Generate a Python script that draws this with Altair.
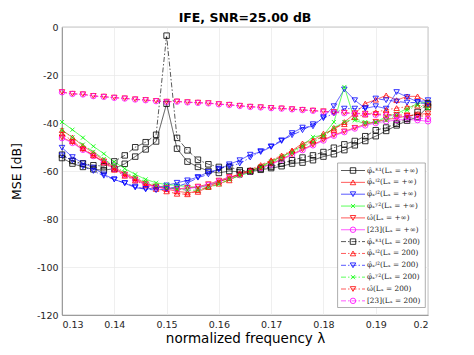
import altair as alt
import pandas as pd

freq = [0.130, 0.132, 0.134, 0.136, 0.138, 0.140, 0.142, 0.144, 0.146, 0.148,
        0.150, 0.152, 0.154, 0.156, 0.158, 0.160, 0.162, 0.164, 0.166, 0.168,
        0.170, 0.172, 0.174, 0.176, 0.178, 0.180, 0.182, 0.184, 0.186, 0.188,
        0.190, 0.192, 0.194, 0.196, 0.198, 0.200]

k1_inf = [-54.6, -56.9, -58.3, -59.3, -59.7, -59.0, -57.0, -54.0, -51.0, -47.7,
          -32.0, -50.7, -56.1, -58.3, -60.0, -60.8, -60.0, -60.4, -60.3, -59.5,
          -58.8, -58.0, -56.9, -56.5, -55.5, -54.0, -53.0, -51.3, -49.3, -47.5,
          -45.5, -43.3, -41.0, -39.0, -37.5, -33.3]
i2_inf = [-43.0, -46.0, -49.5, -52.5, -55.5, -58.5, -61.0, -63.0, -65.0, -66.5,
          -67.5, -68.5, -69.0, -68.7, -66.7, -65.3, -63.9, -61.5, -60.0, -58.3,
          -55.8, -54.2, -51.5, -48.5, -47.2, -44.4, -42.8, -39.6, -36.1, -31.9,
          -30.3, -28.5, -30.5, -28.9, -28.9, -31.2]
j2_inf = [-50.3, -54.2, -56.7, -58.6, -61.4, -63.5, -65.1, -66.9, -67.6, -66.9,
          -66.0, -64.9, -63.9, -62.5, -60.4, -59.4, -57.2, -55.5, -53.2, -52.1,
          -50.0, -47.5, -44.2, -41.9, -41.4, -37.5, -33.0, -26.0, -30.5, -33.9,
          -33.0, -34.0, -27.1, -29.2, -31.2, -30.5]
y2_inf = [-39.6, -42.8, -46.1, -49.7, -52.8, -56.2, -59.0, -61.4, -63.5, -64.9,
          -65.7, -66.0, -66.5, -67.0, -66.0, -64.5, -63.0, -61.5, -60.0, -58.0,
          -56.0, -54.0, -52.0, -49.3, -45.8, -45.1, -39.6, -25.0, -38.9, -40.3,
          -39.6, -37.5, -36.1, -34.0, -31.9, -31.2]
om_inf = [-46.0, -48.0, -51.0, -53.5, -56.0, -59.0, -61.5, -63.5, -65.5, -66.5,
          -67.0, -67.5, -67.0, -66.5, -65.5, -64.0, -62.5, -61.5, -60.0, -58.5,
          -57.0, -55.0, -53.0, -51.0, -49.0, -47.0, -45.0, -43.5, -42.0, -40.5,
          -39.5, -38.5, -38.0, -37.0, -36.5, -36.0]
c23_inf = [-46.3, -48.3, -51.2, -53.8, -56.3, -59.2, -61.7, -63.7, -65.7, -66.8,
           -67.2, -67.7, -67.3, -66.8, -65.8, -64.3, -62.8, -61.7, -60.3, -58.8,
           -57.3, -55.3, -53.3, -51.3, -49.3, -47.3, -45.3, -43.8, -42.3, -41.0,
           -40.0, -39.3, -38.8, -38.5, -38.8, -39.3]
k1_200 = [-53.2, -55.8, -56.9, -57.6, -58.0, -56.0, -53.5, -50.1, -48.0, -44.9,
          -3.6, -46.2, -51.4, -55.3, -57.2, -58.3, -58.3, -59.7, -60.0, -59.0,
          -58.3, -56.9, -55.5, -54.4, -53.5, -52.1, -50.3, -48.9, -47.5, -45.5,
          -43.0, -41.9, -40.3, -38.2, -35.4, -31.9]
i2_200 = [-44.4, -47.5, -50.5, -53.5, -56.5, -59.5, -62.0, -64.0, -66.0, -67.5,
          -68.5, -69.5, -69.7, -68.0, -66.5, -64.5, -63.0, -61.0, -59.5, -57.5,
          -55.5, -53.5, -51.5, -49.5, -47.5, -45.5, -42.0, -40.5, -37.5, -36.5,
          -35.5, -34.5, -33.8, -33.2, -32.8, -32.5]
j2_200 = [-53.5, -55.6, -58.1, -60.0, -62.0, -63.5, -65.0, -66.5, -67.5, -68.0,
          -67.5, -66.5, -65.0, -62.8, -61.4, -59.0, -58.0, -56.9, -54.4, -51.7,
          -49.7, -47.2, -45.1, -43.0, -40.5, -38.0, -36.0, -34.0, -34.0, -33.9,
          -29.8, -30.5, -31.0, -31.5, -31.5, -32.0]
y2_200 = [-43.0, -46.0, -49.0, -52.0, -55.0, -58.0, -60.5, -62.5, -64.5, -66.0,
          -67.0, -67.5, -68.0, -68.0, -67.0, -65.5, -63.5, -62.0, -60.5, -58.5,
          -56.5, -54.5, -52.5, -50.0, -48.0, -45.5, -42.0, -39.6, -38.2, -39.6,
          -39.6, -38.9, -36.8, -34.7, -32.6, -34.0]
om_200 = [-27.1, -27.8, -28.0, -28.7, -29.0, -29.4, -29.7, -30.1, -30.4, -30.8,
          -31.1, -31.0, -31.3, -31.5, -31.7, -32.1, -32.4, -32.8, -33.2, -33.4,
          -33.7, -33.9, -34.2, -34.5, -34.8, -35.1, -35.4, -35.7, -35.9, -36.1,
          -36.3, -36.4, -36.6, -36.8, -37.0, -37.2]
c23_200 = [-27.2, -27.9, -28.1, -28.8, -29.1, -29.5, -29.8, -30.2, -30.5, -30.9,
           -31.2, -31.1, -31.4, -31.6, -31.8, -32.2, -32.5, -32.9, -33.3, -33.5,
           -33.8, -34.0, -34.3, -34.6, -34.9, -35.3, -35.6, -35.9, -36.1, -36.3,
           -36.6, -36.8, -37.1, -37.5, -37.9, -38.3]

hat = "\u0302"
labels = [
    f"φ{hat}ₓᴷ¹(Lₓ = +∞)", f"φ{hat}ₓᴵ²(Lₓ = +∞)", f"φ{hat}ₓᴶ²(Lₓ = +∞)",
    f"φ{hat}ₓʸ²(Lₓ = +∞)", f"ω{hat}(Lₓ = +∞)", "[23](Lₓ = +∞)",
    f"φ{hat}ₓᴷ¹(Lₓ = 200)", f"φ{hat}ₓᴵ²(Lₓ = 200)", f"φ{hat}ₓᴶ²(Lₓ = 200)",
    f"φ{hat}ₓʸ²(Lₓ = 200)", f"ω{hat}(Lₓ = 200)", "[23](Lₓ = 200)",
]
series_values = [k1_inf, i2_inf, j2_inf, y2_inf, om_inf, c23_inf,
                 k1_200, i2_200, j2_200, y2_200, om_200, c23_200]
colors = ["#000000", "#ff0000", "#0000ff", "#00ff00", "#ff0000", "#ff00ff"] * 2
xpath = "M-0.75,-0.75L0.75,0.75M-0.75,0.75L0.75,-0.75"
shapes = ["square", "triangle-up", "triangle-down", xpath, "triangle-down", "circle"] * 2
dashes = [[1, 0]] * 6 + [[5, 2, 1.5, 2]] * 6

rows = []
for lab, vals in zip(labels, series_values):
    for f, v in zip(freq, vals):
        rows.append({"series": lab, "freq": f, "mse": v})
df = pd.DataFrame(rows)

W, H = 366, 288
color_s = alt.Color("series:N", scale=alt.Scale(domain=labels, range=colors), legend=None)
shape_s = alt.Shape("series:N", scale=alt.Scale(domain=labels, range=shapes), legend=None)
dash_s = alt.StrokeDash("series:N", scale=alt.Scale(domain=labels, range=dashes), legend=None)

x_enc = alt.X("freq:Q", scale=alt.Scale(domain=[0.13, 0.2], nice=False, zero=False),
              axis=alt.Axis(values=[0.13, 0.14, 0.15, 0.16, 0.17, 0.18, 0.19, 0.2],
                            format=".2~f", title="normalized frequency λ"))
y_enc = alt.Y("mse:Q", scale=alt.Scale(domain=[-120, 0], nice=False),
              axis=alt.Axis(values=[-120, -100, -80, -60, -40, -20, 0],
                            labelExpr="'' + datum.value", title="MSE [dB]"))

base = alt.Chart(df)
lines = base.mark_line(strokeWidth=0.65).encode(x=x_enc, y=y_enc, color=color_s, strokeDash=dash_s)
points = base.mark_point(filled=False, size=30, strokeWidth=0.8, opacity=1).encode(
    x="freq:Q", y="mse:Q", color=color_s, shape=shape_s)

# legend box (inside plot, lower right)
leg_top, leg_step = 143.5, 11.85
leg_df = pd.DataFrame({"series": labels,
                       "ly": [leg_top + k * leg_step for k in range(len(labels))]})
box = alt.Chart(pd.DataFrame({"a": [0]})).mark_rect(
    fill="white", stroke="#8c8c8c", strokeWidth=0.7).encode(
    x=alt.value(275.6), x2=alt.value(363.3), y=alt.value(136), y2=alt.value(280.5))
leg_y = alt.Y("ly:Q", scale=None, axis=None)
leg_lines = alt.Chart(leg_df).mark_rule(strokeWidth=0.65).encode(
    x=alt.value(279), x2=alt.value(303), y=leg_y, color=color_s, strokeDash=dash_s)
leg_pts = alt.Chart(leg_df).mark_point(filled=False, size=30, strokeWidth=0.8, opacity=1).encode(
    x=alt.value(291), y=leg_y, color=color_s, shape=shape_s)
leg_txt = alt.Chart(leg_df).mark_text(
    align="left", baseline="middle", font="DejaVu Serif", fontSize=7.3, color="#262626").encode(
    x=alt.value(305), y=leg_y, text="series:N")

chart = alt.layer(lines, points, box, leg_lines, leg_pts, leg_txt).properties(
    width=W, height=H,
    title=alt.TitleParams("IFE, SNR=25.00 dB", fontSize=12.5, fontWeight="bold",
                          font="DejaVu Sans", color="#000000", offset=-2, anchor="middle"),
    autosize=alt.AutoSizeParams(type="none"),
    padding={"left": 54, "top": 19, "right": 30, "bottom": 36},
).configure_view(stroke="#7f7f7f", strokeWidth=0.7).configure_axis(
    grid=True, gridColor="#e8e8e8", gridWidth=0.7, domainColor="#7f7f7f", domainWidth=0.7,
    ticks=False, labelFont="DejaVu Sans", labelFontSize=9.5, labelColor="#262626",
    titleFont="DejaVu Sans", titleFontWeight="normal", titleColor="#000000",
).configure_axisX(labelPadding=4, titleFontSize=13.5, titlePadding=3
).configure_axisY(labelPadding=4, titleFontSize=12.5, titlePadding=13)

chart.save("out.html", embed_options={"renderer": "svg", "actions": False})
